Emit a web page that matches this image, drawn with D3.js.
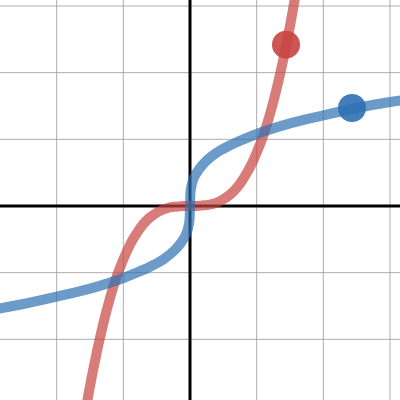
<!DOCTYPE html><html><head><script src="https://d3js.org/d3.v7.min.js"></script>
<style>body{margin:0}</style></head><body><svg width="400" height="400"></svg><script>
const redX=[-1.7,-1.6,-1.5,-1.4,-1.3,-1.2,-1.1,-1.0,-0.9,-0.8,-0.7,-0.6,-0.5,-0.4,-0.3,-0.2,-0.1,0,0.1,0.2,0.3,0.4,0.5,0.6,0.7,0.8,0.9,1.0,1.1,1.2,1.3,1.4,1.5,1.6,1.7];
const redY=[-3.93,-3.28,-2.70,-2.20,-1.76,-1.38,-1.06,-0.80,-0.58,-0.41,-0.27,-0.17,-0.10,-0.05,-0.02,-0.01,0,0,0,0.01,0.02,0.05,0.10,0.17,0.27,0.41,0.58,0.80,1.06,1.38,1.76,2.20,2.70,3.28,3.93];
const blueX=[-3.2,-3.0,-2.5,-2.0,-1.5,-1.0,-0.8,-0.6,-0.4,-0.2,-0.1,-0.05,-0.02,-0.005,0,0.005,0.02,0.05,0.1,0.2,0.4,0.6,0.8,1.0,1.5,2.0,2.5,3.0,3.2];
const blueY=[-1.59,-1.56,-1.47,-1.36,-1.24,-1.08,-1.00,-0.91,-0.80,-0.63,-0.50,-0.40,-0.29,-0.18,0,0.18,0.29,0.40,0.50,0.63,0.80,0.91,1.00,1.08,1.24,1.36,1.47,1.56,1.59];
const redPt=[1.44,2.42], bluePt=[2.43,1.47];
const gridTicks=[-3,-2,-1,0,1,2,3];
const svg=d3.select("svg");
const x=d3.scaleLinear().domain([-2.85,3.15]).range([0,400]);
const y=d3.scaleLinear().domain([3.09,-2.91]).range([0,400]);
svg.append("rect").attr("width",400).attr("height",400).attr("fill","#fff");
const g=svg.append("g");
gridTicks.forEach(t=>{
 g.append("line").attr("x1",x(t)).attr("x2",x(t)).attr("y1",0).attr("y2",400).attr("stroke","#999").attr("stroke-width",1).attr("opacity",0.8);
 g.append("line").attr("y1",y(t)).attr("y2",y(t)).attr("x1",0).attr("x2",400).attr("stroke","#999").attr("stroke-width",1).attr("opacity",0.8);
});
g.append("line").attr("x1",x(0)).attr("x2",x(0)).attr("y1",0).attr("y2",400).attr("stroke","#000").attr("stroke-width",3);
g.append("line").attr("y1",y(0)).attr("y2",y(0)).attr("x1",0).attr("x2",400).attr("stroke","#000").attr("stroke-width",3);
const line=d3.line().x(d=>x(d[0])).y(d=>y(d[1])).curve(d3.curveMonotoneX);
svg.append("path").attr("d",line(redX.map((v,i)=>[v,redY[i]]))).attr("fill","none").attr("stroke","#c74440").attr("stroke-width",10).attr("opacity",0.7);
svg.append("path").attr("d",line(blueX.map((v,i)=>[v,blueY[i]]))).attr("fill","none").attr("stroke","#2d70b3").attr("stroke-width",10).attr("opacity",0.7);
svg.append("circle").attr("cx",x(redPt[0])).attr("cy",y(redPt[1])).attr("r",14).attr("fill","#c74440").attr("opacity",0.9);
svg.append("circle").attr("cx",x(bluePt[0])).attr("cy",y(bluePt[1])).attr("r",14).attr("fill","#2d70b3").attr("opacity",0.9);
</script></body></html>
